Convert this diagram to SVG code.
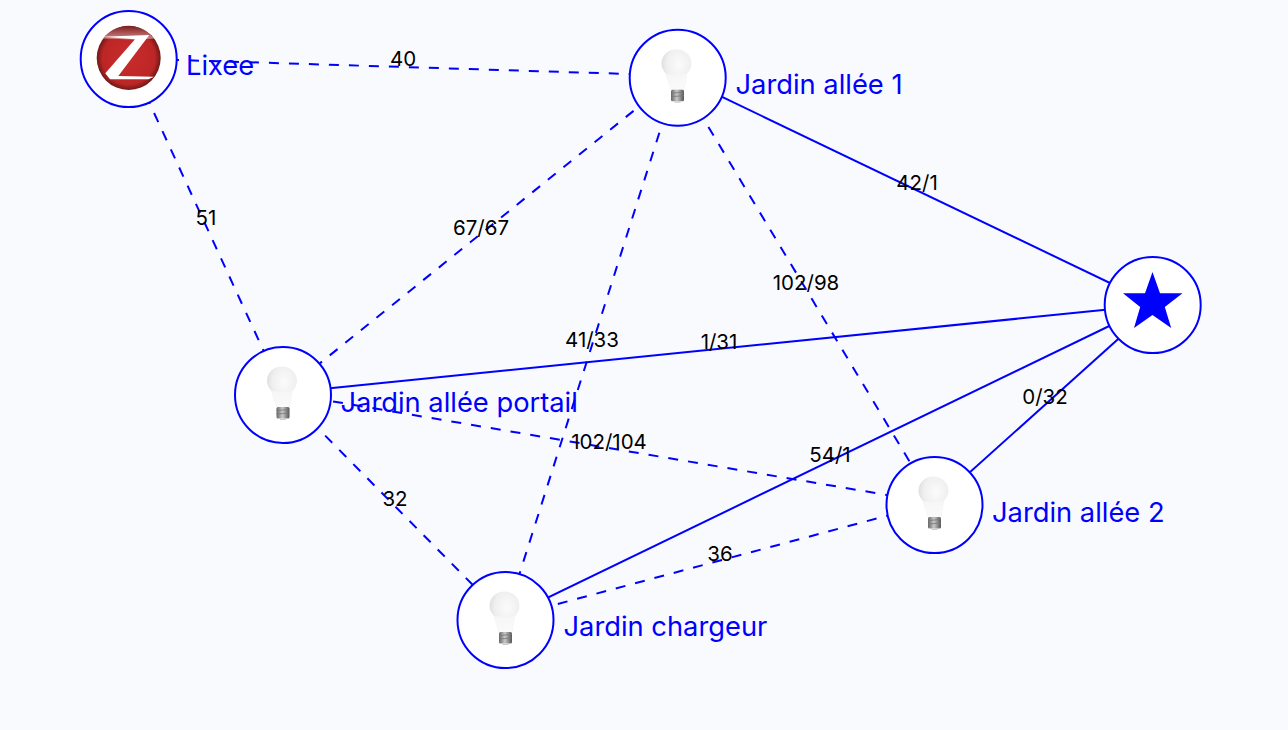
<svg xmlns="http://www.w3.org/2000/svg" width="1288" height="730" viewBox="0 0 1288 730">
<style>
.l{stroke:#0000ff;stroke-width:2;fill:none}
.d{stroke-dasharray:10 10}
.c{fill:#fff;stroke:#0000ff;stroke-width:2}
.n{font-family:"Inter","Liberation Sans",sans-serif;font-size:27.300px;fill:#0000ff}
.e{font-family:"Inter","Liberation Sans",sans-serif;font-size:20.500px;fill:#000;text-anchor:middle}
</style>
<defs>
<radialGradient id="glob" cx="0.58" cy="0.38" r="0.68"><stop offset="0" stop-color="#fbfbfb"/><stop offset="0.6" stop-color="#efefef"/><stop offset="1" stop-color="#d6d6d6"/></radialGradient>
<linearGradient id="neck" x1="0" x2="0" y1="0" y2="1"><stop offset="0" stop-color="#f6f6f6"/><stop offset="1" stop-color="#fafafa"/></linearGradient>
<linearGradient id="screw" x1="0" x2="1" y1="0" y2="0"><stop offset="0" stop-color="#666"/><stop offset="0.45" stop-color="#c8c8c8"/><stop offset="0.6" stop-color="#aaa"/><stop offset="1" stop-color="#555"/></linearGradient>
<radialGradient id="ball" cx="0.5" cy="0.5" r="0.5"><stop offset="0" stop-color="#c92c2c"/><stop offset="0.82" stop-color="#bd2626"/><stop offset="1" stop-color="#701818"/></radialGradient>
<linearGradient id="cap" x1="0" x2="0" y1="0" y2="1"><stop offset="0" stop-color="#7a1c1c"/><stop offset="1" stop-color="#d88a8a"/></linearGradient>
<g id="bulb">
<path d="M-11.500 -4 C-14 -7 -16 -10 -16 -14 C-16 -23 -9 -28.500 -1 -28.500 C7 -28.500 14 -23 14 -14 C14 -10 12 -7 9.500 -4 C8.500 2 7.500 7 6.500 12 L-6.500 12 C-7.500 7 -10.500 2 -11.500 -4 Z" fill="url(#glob)"/>
<path d="M-11.500 -4 C-10.500 2 -7.500 7 -6.500 12 L6.500 12 C7.500 7 8.500 2 9.500 -4 Q-1 -2 -11.500 -4 Z" fill="url(#neck)"/>
<rect x="-6.500" y="12" width="13" height="11.500" rx="1.500" fill="url(#screw)"/>
<path d="M-6.500 15.500 L6.500 14.500 M-6.500 19 L6.500 18" stroke="#777" stroke-width="0.800"/>
<rect x="-3" y="23.500" width="6" height="1.500" fill="#ccc"/>
</g>
</defs>
<rect width="1288" height="730" fill="#f8fafe"/>
<g id="connectors">
<line class="l d" x1="129" y1="58.500" x2="677.500" y2="75.500"/>
<line class="l d" x1="129" y1="58.500" x2="283" y2="393"/>
<line class="l d" x1="283" y1="393" x2="677.500" y2="75.500"/>
<line class="l d" x1="677.500" y1="75.500" x2="505.500" y2="618"/>
<line class="l d" x1="677.500" y1="75.500" x2="934.500" y2="503"/>
<line class="l d" x1="934.500" y1="503" x2="283" y2="393"/>
<line class="l d" x1="283" y1="393" x2="505.500" y2="618"/>
<line class="l d" x1="934.500" y1="503" x2="505.500" y2="618"/>
<line class="l" x1="677.500" y1="75.500" x2="1152.700" y2="303.500"/>
<line class="l" x1="283" y1="393" x2="1152.700" y2="305"/>
<line class="l" x1="505.500" y1="618" x2="1152.700" y2="305"/>
<line class="l" x1="934.500" y1="504" x2="1152.700" y2="308"/>
</g>
<g id="node-lixee">
<circle class="c" cx="128.700" cy="59" r="48"/>
<circle cx="128.700" cy="58" r="32" fill="url(#ball)"/>
<path d="M103 38.500 A32 32 0 0 1 154 38.500 L135 39.500 Z" fill="url(#cap)"/>
<path d="M102.700 36.700 L149.300 35 L118.300 76 L154 76.700 L148.300 79.300 L110 79.300 L105.300 73.300 L135 39.300 Z" fill="#fff"/>
<text class="n" x="186" y="75">Lixee</text>
</g>
<g id="node-allee1">
<circle class="c" cx="677.700" cy="77.700" r="48"/>
<use href="#bulb" x="677.500" y="77.700"/>
<text class="n" x="735.500" y="94">Jardin allée 1</text>
</g>
<g id="node-portail">
<circle class="c" cx="283" cy="395" r="48"/>
<use href="#bulb" x="283" y="395"/>
<text class="n" x="340.500" y="412">Jardin allée portail</text>
</g>
<g id="node-allee2">
<circle class="c" cx="934.500" cy="505" r="48"/>
<use href="#bulb" x="934.500" y="505"/>
<text class="n" x="992" y="522">Jardin allée 2</text>
</g>
<g id="node-chargeur">
<circle class="c" cx="505.500" cy="620" r="48"/>
<use href="#bulb" x="505.500" y="620"/>
<text class="n" x="563.500" y="636">Jardin chargeur</text>
</g>
<g id="node-star">
<circle class="c" cx="1152.700" cy="305" r="48"/>
<polygon points="1152.500,272 1160,293.300 1182.500,293.300 1164.800,307 1171.200,328 1152.500,315 1134,328 1140.200,307 1123,293.300 1145,293.300" fill="#0000ff"/>
</g>
<g id="edge-labels">
<text class="e" x="403" y="66">40</text>
<text class="e" x="206" y="225">51</text>
<text class="e" x="917" y="190">42/1</text>
<text class="e" x="481" y="235">67/67</text>
<text class="e" x="806" y="290">102/98</text>
<text class="e" x="592" y="347">41/33</text>
<text class="e" x="719" y="349">1/31</text>
<text class="e" x="1045" y="404">0/32</text>
<text class="e" x="830" y="462">54/1</text>
<text class="e" x="609" y="449">102/104</text>
<text class="e" x="395" y="506">32</text>
<text class="e" x="720" y="561">36</text>
</g>
</svg>
